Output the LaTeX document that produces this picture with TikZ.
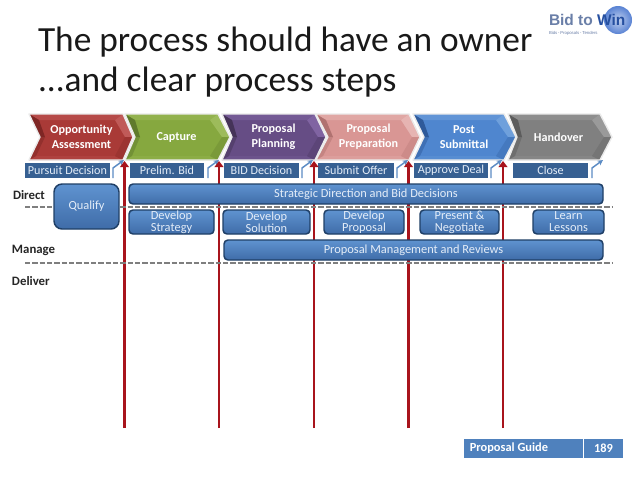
\documentclass[tikz,border=0pt]{standalone}
\usepackage{fontspec}
\setmainfont{Carlito}
\newfontfamily\logofont{Liberation Sans}
\usetikzlibrary{arrows.meta}
\definecolor{decis}{HTML}{376092}
\definecolor{flag}{HTML}{5B8BC4}
\definecolor{boxtop}{HTML}{5F93D0}
\definecolor{boxbot}{HTML}{3F6CA8}
\definecolor{boxedge}{HTML}{1F3F66}
\definecolor{redline}{HTML}{A8141C}
\definecolor{dashc}{HTML}{7F7F7F}
\definecolor{logoc}{HTML}{6A7FA8}
\definecolor{logob}{HTML}{2F63C8}
\definecolor{foot}{HTML}{4F81BD}
\definecolor{boxtext}{HTML}{E4EDF8}
\definecolor{gya}{HTML}{808080}\definecolor{gyb}{HTML}{9A9A9A}\definecolor{gyc}{HTML}{5C5C5C}
\definecolor{bla}{HTML}{4F86CF}\definecolor{blb}{HTML}{6FA0DC}\definecolor{blc}{HTML}{2F5A9A}
\definecolor{pka}{HTML}{D99694}\definecolor{pkb}{HTML}{E6B4B2}\definecolor{pkc}{HTML}{B07270}
\definecolor{pua}{HTML}{664D85}\definecolor{pub}{HTML}{8064A2}\definecolor{puc}{HTML}{453358}
\definecolor{gna}{HTML}{86A83F}\definecolor{gnb}{HTML}{9DBB5B}\definecolor{gnc}{HTML}{5F7A2C}
\definecolor{rda}{HTML}{A93A37}\definecolor{rdb}{HTML}{C05A58}\definecolor{rdc}{HTML}{7E2624}
\tikzset{
  px/.style={inner sep=0pt,outer sep=0pt},
  decbox/.style={px,fill=decis,text=boxtext,font=\fontsize{9.1}{10}\selectfont},
  procbox/.style={px,rounded corners=3pt,draw=boxedge,line width=1.1pt,top color=boxtop,bottom color=boxbot,text=boxtext,align=center,font=\fontsize{9.3}{9}\selectfont},
  chevtext/.style={px,text=white,align=center,font=\bfseries\fontsize{9.1}{11.4}\selectfont},
  lane/.style={px,anchor=west,font=\bfseries\fontsize{9.6}{10}\selectfont,text=black!85},
  laneline/.style={dashc,line width=1pt,dash pattern=on 4pt off 1.5pt},
  redl/.style={redline,line width=2.2pt,-{Triangle[length=4.5pt,width=6.5pt]}},
  flagl/.style={flag,line width=1.1pt,-{Stealth[length=4pt,width=4pt]}},
  footbox/.style={px,fill=foot,text=white,font=\bfseries\fontsize{9.3}{10}\selectfont}
}
% name x0 y0 x1 y1 style text
\newcommand\bxx[7]{%
  \pgfmathsetmacro\bw{(#4-#2)*0.75}\pgfmathsetmacro\bh{(#5-#3)*0.75}%
  \pgfmathsetmacro\bcx{(#2+#4)/2}\pgfmathsetmacro\bcy{(#3+#5)/2}%
  \node[#6,minimum width=\bw pt,minimum height=\bh pt] (#1) at (\bcx,\bcy) {#7};}
% name left notch topright tip base light dark text
\newcommand\chev[9]{%
  \fill[#6] (#2,114) -- (#4,114) -- (#5,137) -- (#4,160) -- (#2,160) -- (#3,137) -- cycle;
  \fill[#7!55!#6] (#2,114) -- (#4,114) -- ({#4-8},120) -- ({#2+10},120) -- cycle;
  \fill[#7!25!#6] (#2,160) -- (#4,160) -- ({#4-8},156) -- ({#2+7},156) -- cycle;
  \fill[#7] (#4,114) -- (#5,137) -- ({#5-8},137) -- ({#4-8},120) -- cycle;
  \fill[#8!30!#6] (#4,160) -- (#5,137) -- ({#5-8},137) -- ({#4-8},156) -- cycle;
  \fill[#8] (#2,114) -- (#3,137) -- ({#3+5},137) -- ({#2+10},120) -- cycle;
  \fill[#8!50!#6] (#2,160) -- (#3,137) -- ({#3+5},137) -- ({#2+7},156) -- cycle;
  \draw[black!8,line width=1pt,line join=round] (#2,114) -- (#4,114) -- (#5,137) -- (#4,160) -- (#2,160) -- (#3,137) -- cycle;
  \node[chevtext] (#1) at ({(#3+#4)/2},137) {#9};}
\begin{document}
\begin{tikzpicture}[x=0.75pt,y=-0.75pt]
\useasboundingbox[fill=white] (0,0) rectangle (638,479);

% title
\node[px,anchor=base west,font=\fontsize{26.5}{30}\selectfont,text=black!90] (t1) at (38,51) {The process should have an owner};
\node[px,anchor=base west,font=\fontsize{26.5}{30}\selectfont,text=black!90] (t2) at (38,91) {...and clear process steps};

% logo
\shade[inner color=logob!30,outer color=logob!80,draw=none] (618,20) circle (14);
\node[px,anchor=base west,font=\logofont\bfseries\fontsize{11.6}{14}\selectfont,text=logoc] (lg) at (549,25) {Bid to \textcolor{logob!80!black}{Win}};
\node[px,anchor=base west,font=\logofont\fontsize{3.2}{4}\selectfont,text=logoc] (lg2) at (549,34) {Bids$\cdot$Proposals$\cdot$Tenders};

% chevrons, last first so each overlaps correctly
\chev{c6}{508}{517}{600}{612}{gya}{gyb}{gyc}{Handover}
\chev{c5}{413}{424}{504}{516}{bla}{blb}{blc}{Post\\Submittal}
\chev{c4}{316}{328}{409}{420}{pka}{pkb}{pkc}{Proposal\\Preparation}
\chev{c3}{222}{232}{315}{326}{pua}{pub}{puc}{Proposal\\Planning}
\chev{c2}{125}{135}{218}{230}{gna}{gnb}{gnc}{Capture}
\chev{c1}{29}{40}{123}{133}{rda}{rdb}{rdc}{Opportunity\\Assessment}

% decision boxes
\bxx{d1}{25}{163}{110}{178}{decbox}{Pursuit Decision}
\bxx{d2}{130}{163}{204}{178}{decbox}{Prelim. Bid}
\bxx{d3}{224}{163}{299}{178}{decbox}{BID Decision}
\bxx{d4}{318}{163}{394}{178}{decbox}{Submit Offer}
\bxx{d5}{414}{163}{488}{178}{decbox}{Approve Deal}
\bxx{d6}{513}{163}{588}{178}{decbox}{Close}

% decision flags
\foreach \i/\x in {1/113,2/208,3/302,4/397,5/491,6/592}{
  \coordinate (fb\i) at (\x,178);
  \coordinate (fm\i) at (\x,168);
  \coordinate (ft\i) at ({\x+11},160);
  \draw[flagl] (fb\i) -- (fm\i) -- (ft\i);
}

% red phase lines
\foreach \i/\x in {1/124.5,2/219,3/314,4/408.5,5/503}{
  \coordinate (rb\i) at (\x,428);
  \coordinate (rt\i) at (\x,161);
  \draw[redl] (rb\i) -- (rt\i);
}

% lane separators
\coordinate (l1a) at (25,207); \coordinate (l1b) at (612,207);
\coordinate (l2a) at (25,263); \coordinate (l2b) at (612,263);
\draw[laneline] (l1a) -- (l1b);
\draw[laneline] (l2a) -- (l2b);

% lane labels
\node[lane] (ld) at (13,195) {Direct};
\node[lane] (lm) at (12,250) {Manage};
\node[lane] (lv) at (12,281) {Deliver};

% process boxes
\bxx{q}{54}{184}{119}{229}{procbox,rounded corners=6pt}{Qualify}
\bxx{s}{129}{184}{603}{204}{procbox}{Strategic Direction and Bid Decisions}
\bxx{ds}{129}{210}{214}{234}{procbox}{Develop\\Strategy}
\bxx{dl}{223}{210}{310}{234}{procbox}{Develop\\Solution}
\bxx{dp}{324}{210}{404}{234}{procbox}{Develop\\Proposal}
\bxx{pn}{420}{210}{499}{234}{procbox}{Present \&\\Negotiate}
\bxx{ll}{533}{210}{604}{234}{procbox}{Learn\\Lessons}
\bxx{pm}{224}{240}{603}{260}{procbox}{Proposal Management and Reviews}

% footer
\bxx{f1}{464}{439}{583}{458}{footbox}{\hspace*{-2.35em}Proposal Guide}
\bxx{f2}{584}{439}{623}{458}{footbox}{189}
\end{tikzpicture}
\end{document}
